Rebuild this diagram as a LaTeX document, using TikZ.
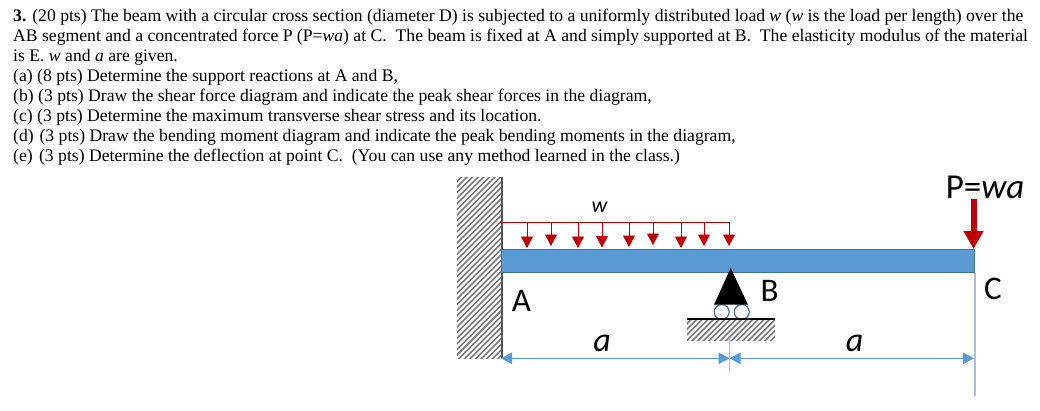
\documentclass[tikz,border=0pt]{standalone}
\usepackage{fontspec}
\setmainfont{Liberation Serif}
\newfontfamily\calib{Carlito}
\usetikzlibrary{arrows.meta}
\definecolor{beamblue}{HTML}{5B9BD5}
\definecolor{beamedge}{HTML}{41719C}
\definecolor{loadred}{HTML}{C00000}
\definecolor{dimline}{HTML}{5B9BD5}
\definecolor{extline}{HTML}{9DC3E6}
\definecolor{hatchgray}{HTML}{7A7A7A}
\tikzset{
  textline/.style={anchor=base west,inner sep=0pt,font=\fontsize{17.65}{20}\selectfont},
  figlabel/.style={inner sep=0pt,font=\calib\fontsize{33}{35}\selectfont},
  loadline/.style={draw=loadred,line width=0.9pt},
  loadarrow/.style={draw=loadred,line width=0.9pt,-{Triangle[length=11.5pt,width=12pt,fill=loadred]}},
  dimarrow/.style={draw=dimline,line width=0.9pt,{Triangle[length=11pt,width=11.5pt,fill=dimline]}-{Triangle[length=11pt,width=11.5pt,fill=dimline]}},
  hatchline/.style={draw=hatchgray,line width=1.6pt},
  roller/.style={circle,draw=beamedge,line width=1.2pt,fill=white,minimum size=15pt,inner sep=0pt},
}
\begin{document}
\begin{tikzpicture}[x=1pt,y=-1pt]
\useasboundingbox[fill=white] (0,0) rectangle (1040,410);
% problem text
\node[textline] (t1) at (13,21.7) {\textbf{3.} (20 pts) The beam with a circular cross section (diameter D) is subjected to a uniformly distributed load \textit{w} (\textit{w} is the load per length) over the};
\node[textline] (t2) at (13,41.7) {AB segment and a concentrated force P (P=\textit{wa}) at C.\ \ The beam is fixed at A and simply supported at B.\ \ The elasticity modulus of the material};
\node[textline] (t3) at (13,61.7) {is E. \textit{w} and \textit{a} are given.};
\node[textline] (t4) at (13,81.7) {(a) (8 pts) Determine the support reactions at A and B,};
\node[textline] (t5) at (13,101.7) {(b) (3 pts) Draw the shear force diagram and indicate the peak shear forces in the diagram,};
\node[textline] (t6) at (13,121.7) {(c) (3 pts) Determine the maximum transverse shear stress and its location.};
\node[textline] (t7) at (13,141.7) {(d)\ \hspace{1.4pt}(3 pts) Draw the bending moment diagram and indicate the peak bending moments in the diagram,};
\node[textline] (t8) at (13,161.7) {(e)\ \hspace{1.9pt}(3 pts) Determine the deflection at point C.\ \ (You can use any method learned in the class.)};
% wall hatch
\begin{scope}
  \clip (457,177) rectangle (501,358);
  \foreach \k in {0,5.6,...,240} {\draw[hatchline] (450+\k,362) -- (450+\k+190,172);}
  \foreach \k in {0,5.6,...,200} {\draw[hatchline] (450-\k,362) -- (450-\k+190,172);}
\end{scope}
\draw[draw=hatchgray!70!black,line width=2pt] (501.5,177) -- (501.5,358);
% ground hatch
\begin{scope}
  \clip (687,320) rectangle (775,340);
  \foreach \k in {0,5.6,...,130} {\draw[hatchline] (660+\k,345) -- (660+\k+30,315);}
\end{scope}
\draw[line width=2.4pt] (687,319) -- (775,319);
% beam
\node[draw=beamedge,line width=1pt,fill=beamblue,minimum width=473pt,minimum height=23pt,inner sep=0pt,anchor=north west] (beam) at (501,249) {};
% support
\node[roller] (r1) at (721.7,312) {};
\node[roller] (r2) at (741.7,312) {};
\fill (730.7,268) -- (748,304.7) -- (714,304.7) -- cycle;
\draw[line width=2.4pt] (687,319) -- (775,319);
% distributed load
\coordinate (loadL) at (500,222);
\coordinate (loadR) at (729.5,222);
\draw[loadline] (loadL) -- (loadR);
\foreach \x/\tip in {527/248,551/246,578/248,602/247.5,629/247,653/245,681/248,704/246,729/246} {
  \coordinate (top\x) at (\x,222);
  \coordinate (tip\x) at (\x,\tip);
  \draw[loadarrow] (top\x) -- (tip\x);
}
% concentrated force
\coordinate (Ptop) at (973.5,199);
\coordinate (Ptip) at (973.5,249);
\draw[draw=loadred,line width=6pt,-{Triangle[length=18pt,width=19pt,fill=loadred]}] (Ptop) -- (Ptip);
% dimensions
\coordinate (dA) at (501,358.3);
\coordinate (dB) at (729.5,358.3);
\coordinate (dC) at (974,358.3);
\draw[dimarrow] (dA) -- (dB);
\draw[dimarrow] (dB) -- (dC);
\coordinate (eB1) at (729.5,338);
\coordinate (eB2) at (729.5,372);
\coordinate (eC2) at (975,396);
\draw[draw=extline,line width=1pt] (eB1) -- (eB2);
\draw[draw=extline,line width=1.4pt] (beam.south east) -- (eC2);
% labels
\node[figlabel,font=\calib\itshape\fontsize{22}{24}\selectfont] (lw) at (599.5,207) {w};
\node[figlabel] (lA) at (521.5,301) {A};
\node[figlabel] (lB) at (769.5,291) {B};
\node[figlabel] (lC) at (993,289) {C};
\node[figlabel,font=\calib\itshape\fontsize{34}{36}\selectfont] (la1) at (602,343) {a};
\node[figlabel,font=\calib\itshape\fontsize{34}{36}\selectfont] (la2) at (854.5,343) {a};
\node[figlabel,font=\calib\fontsize{35}{37}\selectfont] (lP) at (985,187) {P=\textit{wa}};
\end{tikzpicture}
\end{document}
